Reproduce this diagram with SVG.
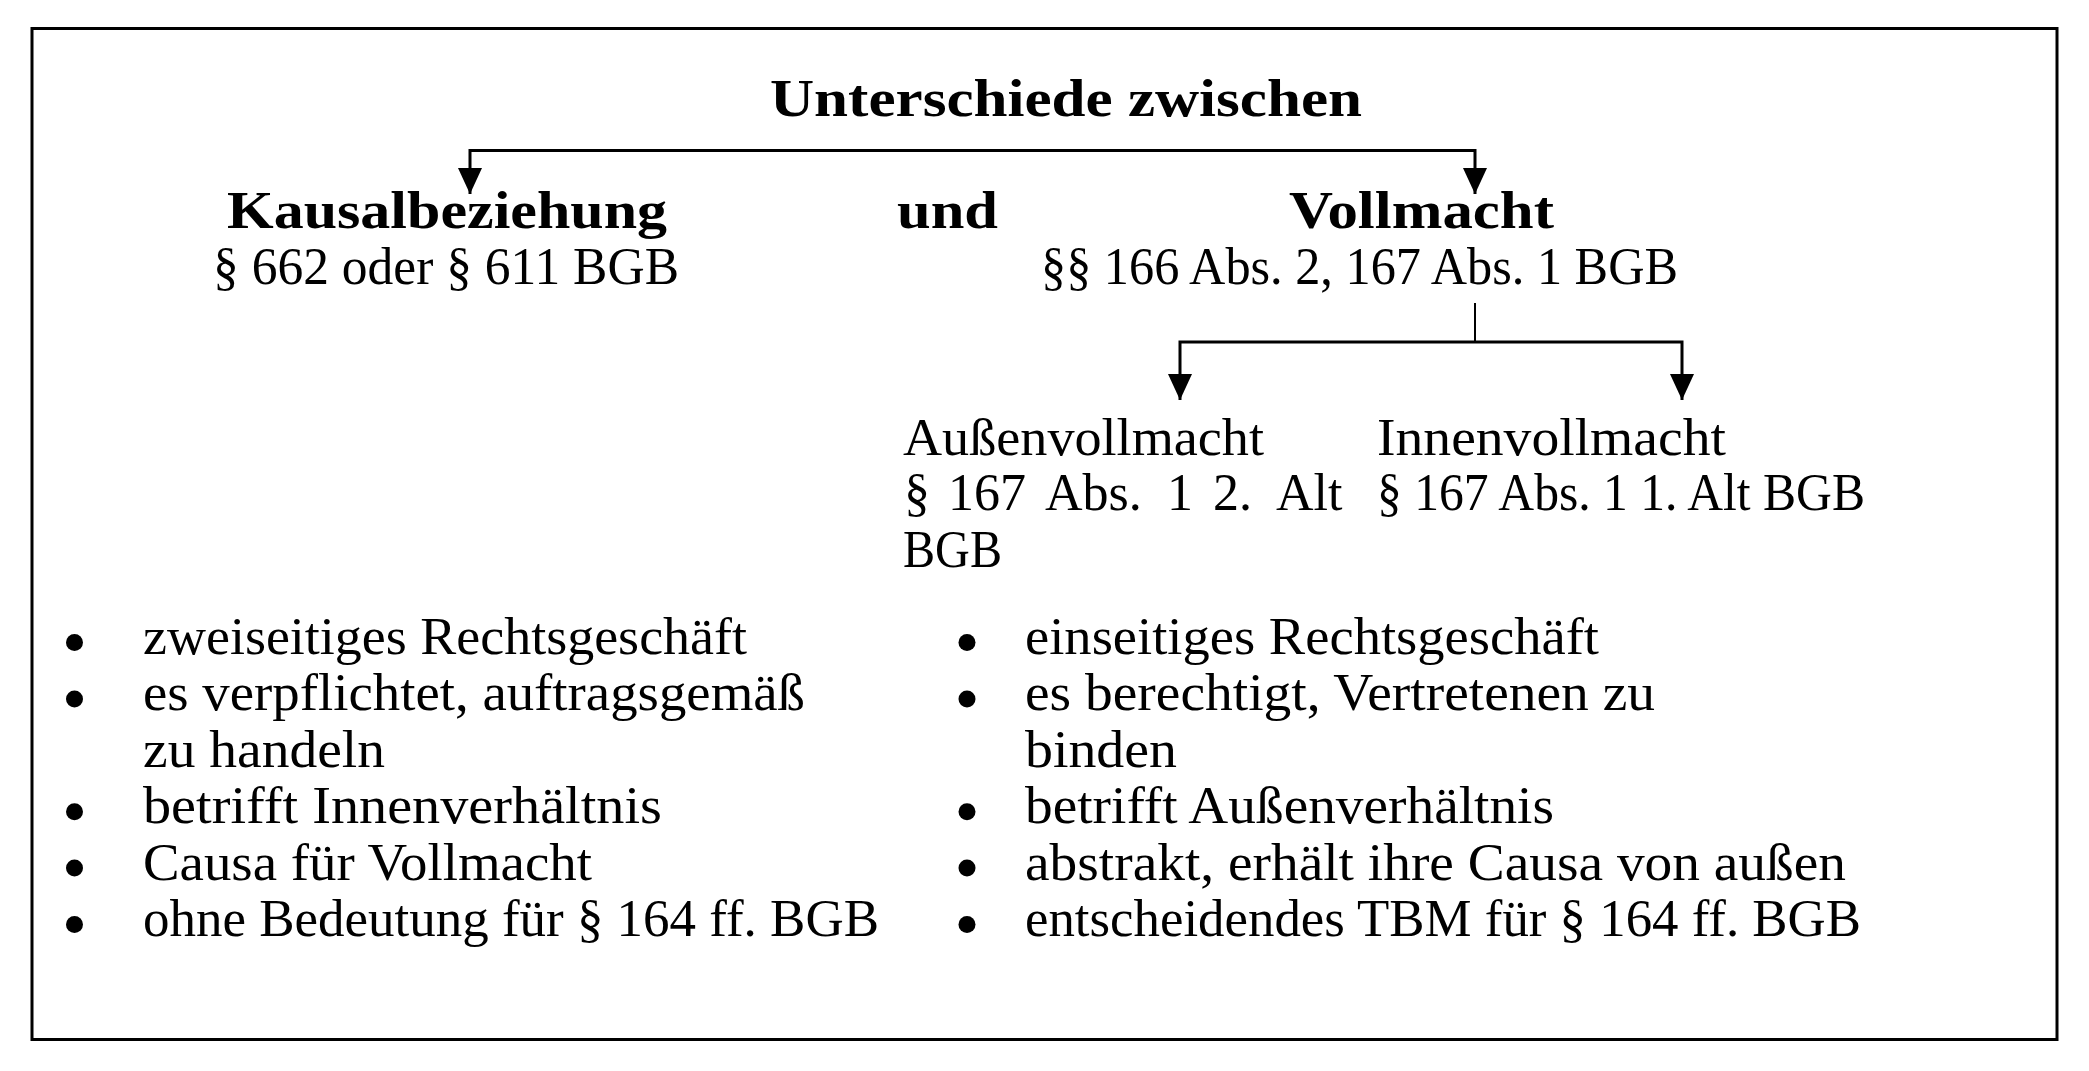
<svg xmlns="http://www.w3.org/2000/svg" width="2089" height="1071" viewBox="0 0 2089 1071">
<style>
text{font-family:"Liberation Serif","DejaVu Serif",serif;fill:#000;font-size:52px}
.b{font-weight:bold}
.ln{fill:none;stroke:#000;stroke-width:3}
.thin{fill:none;stroke:#000;stroke-width:2}
.dot{fill:#000}
</style>
<defs>
<marker id="arr" viewBox="0 0 26 24" refX="26" refY="12" markerWidth="26" markerHeight="24" orient="auto-start-reverse" markerUnits="userSpaceOnUse">
<path d="M0,0 L26,12 L0,24 Z" fill="#000"/>
</marker>
</defs>
<rect x="0" y="0" width="2089" height="1071" fill="#fff"/>
<rect id="frame" x="32" y="28.5" width="2025" height="1011" fill="none" stroke="#000" stroke-width="3"/>
<g id="connectors">
<path class="ln" d="M470,194 V150.5 H1475 V194" marker-start="url(#arr)" marker-end="url(#arr)"/>
<path class="thin" d="M1475,303 V342"/>
<path class="ln" d="M1180,400 V342 H1682 V400" marker-start="url(#arr)" marker-end="url(#arr)"/>
</g>
<g id="title"><text class="b" x="770" y="116" textLength="592" lengthAdjust="spacingAndGlyphs">Unterschiede zwischen</text></g>
<g id="kausal">
<text class="b" x="227" y="228" textLength="440" lengthAdjust="spacingAndGlyphs">Kausalbeziehung</text>
<text x="213" y="284" textLength="466" lengthAdjust="spacingAndGlyphs">§ 662 oder § 611 BGB</text>
</g>
<g id="und"><text class="b" x="897" y="228" textLength="101" lengthAdjust="spacingAndGlyphs">und</text></g>
<g id="vollmacht">
<text class="b" x="1289" y="228" textLength="265" lengthAdjust="spacingAndGlyphs">Vollmacht</text>
<text x="1041" y="284" textLength="637" lengthAdjust="spacingAndGlyphs">§§ 166 Abs. 2, 167 Abs. 1 BGB</text>
</g>
<g id="aussen">
<text x="903" y="455" textLength="361" lengthAdjust="spacingAndGlyphs">Außenvollmacht</text>
<text y="510"><tspan x="904">§</tspan><tspan x="948">167</tspan><tspan x="1045">Abs.</tspan><tspan x="1167">1</tspan><tspan x="1213">2.</tspan><tspan x="1276">Alt</tspan></text>
<text x="903" y="567" textLength="99" lengthAdjust="spacingAndGlyphs">BGB</text>
</g>
<g id="innen">
<text x="1377" y="455" textLength="349" lengthAdjust="spacingAndGlyphs">Innenvollmacht</text>
<text x="1377" y="510" textLength="488" lengthAdjust="spacingAndGlyphs">§ 167 Abs. 1 1. Alt BGB</text>
</g>
<g id="list-left">
<circle class="dot" cx="74.5" cy="642.5" r="8.5"/>
<circle class="dot" cx="74.5" cy="699" r="8.5"/>
<circle class="dot" cx="74.5" cy="811.7" r="8.5"/>
<circle class="dot" cx="74.5" cy="868.1" r="8.5"/>
<circle class="dot" cx="74.5" cy="924.5" r="8.5"/>
<text x="143" y="654" textLength="604" lengthAdjust="spacingAndGlyphs">zweiseitiges Rechtsgeschäft</text>
<text x="143" y="710.4" textLength="662" lengthAdjust="spacingAndGlyphs">es verpflichtet, auftragsgemäß</text>
<text x="143" y="766.8" textLength="242" lengthAdjust="spacingAndGlyphs">zu handeln</text>
<text x="143" y="823.2" textLength="519" lengthAdjust="spacingAndGlyphs">betrifft Innenverhältnis</text>
<text x="143" y="879.6" textLength="449" lengthAdjust="spacingAndGlyphs">Causa für Vollmacht</text>
<text x="143" y="936" textLength="736" lengthAdjust="spacingAndGlyphs">ohne Bedeutung für § 164 ff. BGB</text>
</g>
<g id="list-right">
<circle class="dot" cx="967" cy="642.5" r="8.5"/>
<circle class="dot" cx="967" cy="699" r="8.5"/>
<circle class="dot" cx="967" cy="811.7" r="8.5"/>
<circle class="dot" cx="967" cy="868.1" r="8.5"/>
<circle class="dot" cx="967" cy="924.5" r="8.5"/>
<text x="1025" y="654" textLength="574" lengthAdjust="spacingAndGlyphs">einseitiges Rechtsgeschäft</text>
<text x="1025" y="710.4" textLength="630" lengthAdjust="spacingAndGlyphs">es berechtigt, Vertretenen zu</text>
<text x="1025" y="766.8" textLength="152" lengthAdjust="spacingAndGlyphs">binden</text>
<text x="1025" y="823.2" textLength="529" lengthAdjust="spacingAndGlyphs">betrifft Außenverhältnis</text>
<text x="1025" y="879.6" textLength="821" lengthAdjust="spacingAndGlyphs">abstrakt, erhält ihre Causa von außen</text>
<text x="1025" y="936" textLength="836" lengthAdjust="spacingAndGlyphs">entscheidendes TBM für § 164 ff. BGB</text>
</g>
</svg>
